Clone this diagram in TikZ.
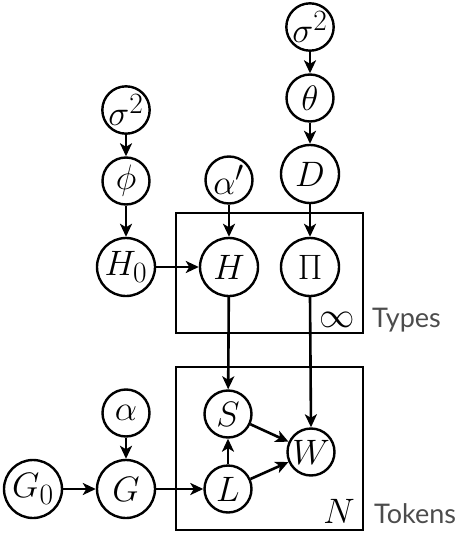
\documentclass[tikz,border=0pt]{standalone}
\usepackage{fontspec}
\newfontfamily\labelfont{Lato}
\usetikzlibrary{arrows.meta}
\newcommand{\gmvar}[1]{\scalebox{1.42}{$#1$}}
\tikzset{
  var/.style={circle,draw,line width=2.4pt,inner sep=0pt,minimum size=47pt,font=\fontsize{24.88}{30}\selectfont},
  bigvar/.style={var,minimum size=58pt},
  plate/.style={draw,line width=2.4pt},
  edge/.style={line width=2.6pt,-{Stealth[length=13pt,width=12pt,inset=3.5pt]}},
  platelab/.style={inner sep=0pt,anchor=base east,font=\fontsize{24.88}{30}\selectfont},
  platename/.style={inner sep=0pt,anchor=base west,text=black!70,font=\labelfont\fontsize{27}{32}\selectfont}
}
\begin{document}
\begin{tikzpicture}[x=1pt,y=-1pt]
\useasboundingbox (0,0) rectangle (474,548);
% plates
\draw[plate] (176,213) rectangle (363,333);
\draw[plate] (176,367) rectangle (363,530);
\node[platelab] (inf) at (355,327) {\gmvar{\infty}};
\node[platename] (types) at (372,327) {Types};
\node[platelab] (n) at (355,523) {\gmvar{N}};
\node[platename] (tokens) at (374,523) {Tokens};
% nodes
\node[var] (sigA) at (310,27) {\gmvar{\sigma^2}};
\node[var] (theta) at (310,98) {\gmvar{\theta}};
\node[bigvar] (D) at (310,174) {\gmvar{D}};
\node[var] (sigB) at (126,110) {\gmvar{\sigma^2}};
\node[var] (phi) at (126,181) {\gmvar{\phi}};
\node[var] (alphap) at (229,180) {\gmvar{\alpha'}};
\node[bigvar] (H0) at (126,267) {\gmvar{H_0}};
\node[bigvar] (H) at (229,267) {\gmvar{H}};
\node[bigvar] (Pi) at (310,267) {\gmvar{\Pi}};
\node[var] (S) at (228,414) {\gmvar{S}};
\node[var] (W) at (311,452) {\gmvar{W}};
\node[var] (L) at (228,489) {\gmvar{L}};
\node[var] (alpha) at (126,413) {\gmvar{\alpha}};
\node[bigvar] (G) at (126,489) {\gmvar{G}};
\node[bigvar] (G0) at (33,489) {\gmvar{G_0}};
% edges
\draw[edge] (sigA) -- (theta);
\draw[edge] (theta) -- (D);
\draw[edge] (D) -- (Pi);
\draw[edge] (sigB) -- (phi);
\draw[edge] (phi) -- (H0);
\draw[edge] (alphap) -- (H);
\draw[edge] (H0) -- (H);
\draw[edge] (H) -- (S);
\draw[edge] (Pi.south) -- (W.north);
\draw[edge] (S) -- (W);
\draw[edge] (L) -- (W);
\draw[edge] (L) -- (S);
\draw[edge] (alpha) -- (G);
\draw[edge] (G0) -- (G);
\draw[edge] (G) -- (L);
\end{tikzpicture}
\end{document}
